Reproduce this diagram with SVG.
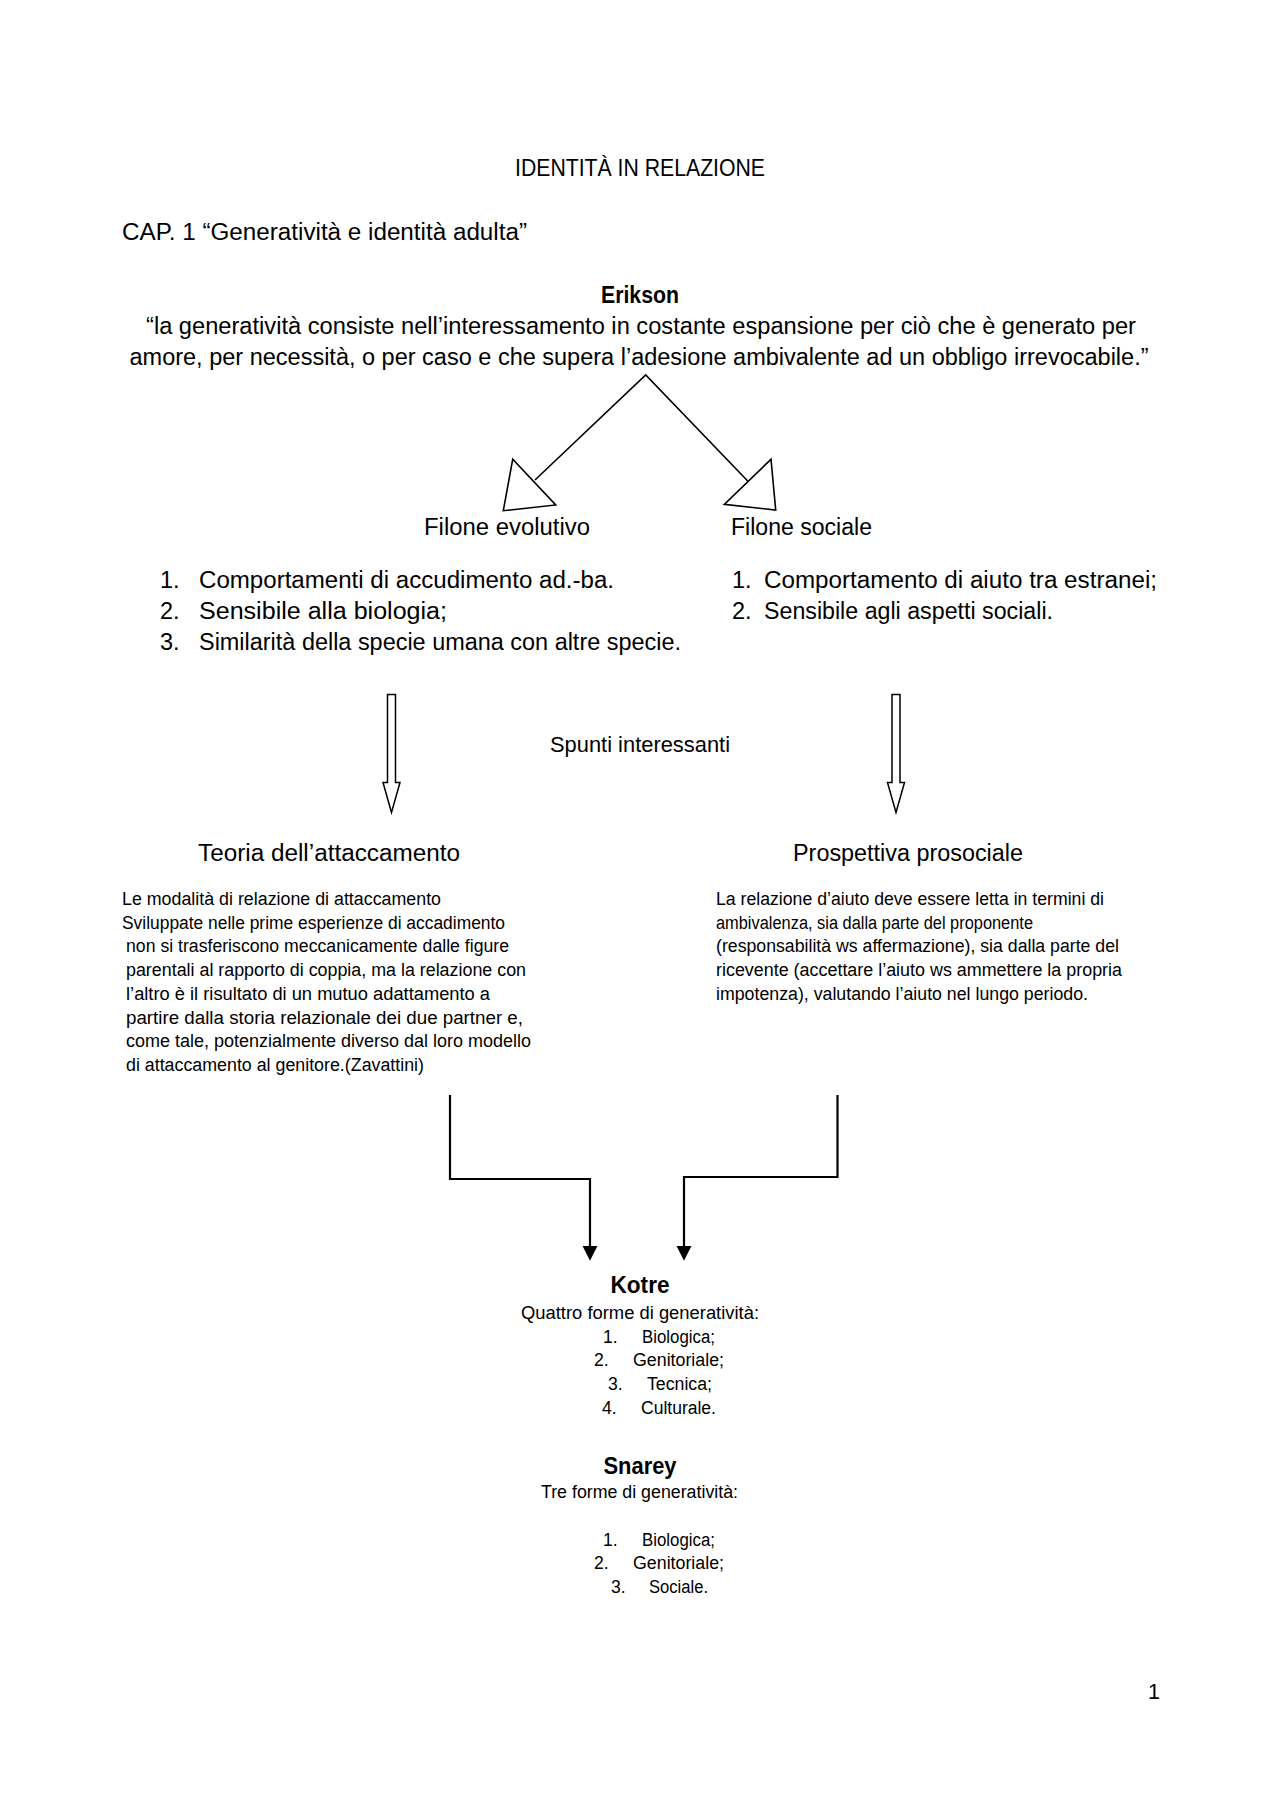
<svg xmlns="http://www.w3.org/2000/svg" width="1280" height="1811" viewBox="0 0 1280 1811">
<style>
text{font-family:"Liberation Sans",Arial,sans-serif;fill:#000}
.b12{font-size:23.5px}
.bold{font-size:23.5px;font-weight:bold}
.t11{font-size:21.5px}
.t9{font-size:17.6px}
.mid{text-anchor:middle}
.ln{fill:none;stroke:#000;stroke-width:1.6}
.el{fill:none;stroke:#000;stroke-width:2.2}
.blk{fill:#fff;stroke:#000;stroke-width:1.5;stroke-linejoin:miter}
</style>
<defs>
<marker id="ah" markerUnits="userSpaceOnUse" markerWidth="16" markerHeight="16" refX="0" refY="6.5" orient="auto" viewBox="0 0 14 13">
<path d="M0,0 L13,6.5 L0,13 Z" fill="#000"/>
</marker>
</defs>
<rect width="1280" height="1811" fill="#fff"/>

<g id="header">
<text class="b12 mid" x="640" y="176" textLength="250" lengthAdjust="spacingAndGlyphs">IDENTITÀ IN RELAZIONE</text>
<text class="b12" x="122" y="240" textLength="405" lengthAdjust="spacingAndGlyphs">CAP. 1 “Generatività e identità adulta”</text>
</g>

<g id="erikson">
<text class="bold mid" x="640" y="303" textLength="78" lengthAdjust="spacingAndGlyphs">Erikson</text>
<text class="b12 mid" x="641" y="334" textLength="990" lengthAdjust="spacingAndGlyphs">“la generatività consiste nell’interessamento in costante espansione per ciò che è generato per</text>
<text class="b12 mid" x="639" y="365" textLength="1019" lengthAdjust="spacingAndGlyphs">amore, per necessità, o per caso e che supera l’adesione ambivalente ad un obbligo irrevocabile.”</text>
</g>

<g id="filone-evolutivo">
<text class="b12" x="424" y="535" textLength="166" lengthAdjust="spacingAndGlyphs">Filone evolutivo</text>
<text class="b12" x="160" y="588">1.</text>
<text class="b12" x="199" y="588" textLength="415" lengthAdjust="spacingAndGlyphs">Comportamenti di accudimento ad.-ba.</text>
<text class="b12" x="160" y="619">2.</text>
<text class="b12" x="199" y="619" textLength="248" lengthAdjust="spacingAndGlyphs">Sensibile alla biologia;</text>
<text class="b12" x="160" y="650">3.</text>
<text class="b12" x="199" y="650" textLength="482" lengthAdjust="spacingAndGlyphs">Similarità della specie umana con altre specie.</text>
</g>

<g id="filone-sociale">
<text class="b12" x="731" y="535" textLength="141" lengthAdjust="spacingAndGlyphs">Filone sociale</text>
<text class="b12" x="732" y="588">1.</text>
<text class="b12" x="764" y="588" textLength="393" lengthAdjust="spacingAndGlyphs">Comportamento di aiuto tra estranei;</text>
<text class="b12" x="732" y="619">2.</text>
<text class="b12" x="764" y="619" textLength="289" lengthAdjust="spacingAndGlyphs">Sensibile agli aspetti sociali.</text>
</g>

<g id="spunti">
<text class="t11" x="550" y="752" textLength="180" lengthAdjust="spacingAndGlyphs">Spunti interessanti</text>
</g>

<g id="teoria-attaccamento">
<text class="b12" x="198" y="861" textLength="262" lengthAdjust="spacingAndGlyphs">Teoria dell’attaccamento</text>
<text class="t9" x="122" y="905" textLength="319" lengthAdjust="spacingAndGlyphs">Le modalità di relazione di attaccamento</text>
<text class="t9" x="122" y="928.7" textLength="383" lengthAdjust="spacingAndGlyphs">Sviluppate nelle prime esperienze di accadimento</text>
<text class="t9" x="126" y="952.4" textLength="383" lengthAdjust="spacingAndGlyphs">non si trasferiscono meccanicamente dalle figure</text>
<text class="t9" x="126" y="976.1" textLength="400" lengthAdjust="spacingAndGlyphs">parentali al rapporto di coppia, ma la relazione con</text>
<text class="t9" x="126" y="999.8" textLength="364" lengthAdjust="spacingAndGlyphs">l’altro è il risultato di un mutuo adattamento a</text>
<text class="t9" x="126" y="1023.5" textLength="397" lengthAdjust="spacingAndGlyphs">partire dalla storia relazionale dei due partner e,</text>
<text class="t9" x="126" y="1047.2" textLength="405" lengthAdjust="spacingAndGlyphs">come tale, potenzialmente diverso dal loro modello</text>
<text class="t9" x="126" y="1070.9" textLength="298" lengthAdjust="spacingAndGlyphs">di attaccamento al genitore.(Zavattini)</text>
</g>

<g id="prospettiva-prosociale">
<text class="b12" x="793" y="861" textLength="230" lengthAdjust="spacingAndGlyphs">Prospettiva prosociale</text>
<text class="t9" x="716" y="905" textLength="388" lengthAdjust="spacingAndGlyphs">La relazione d’aiuto deve essere letta in termini di</text>
<text class="t9" x="716" y="928.7" textLength="317" lengthAdjust="spacingAndGlyphs">ambivalenza, sia dalla parte del proponente</text>
<text class="t9" x="716" y="952.4" textLength="403" lengthAdjust="spacingAndGlyphs">(responsabilità ws affermazione), sia dalla parte del</text>
<text class="t9" x="716" y="976.1" textLength="406" lengthAdjust="spacingAndGlyphs">ricevente (accettare l’aiuto ws ammettere la propria</text>
<text class="t9" x="716" y="999.8" textLength="372" lengthAdjust="spacingAndGlyphs">impotenza), valutando l’aiuto nel lungo periodo.</text>
</g>

<g id="kotre">
<text class="bold mid" x="640" y="1293" textLength="59" lengthAdjust="spacingAndGlyphs">Kotre</text>
<text class="t9" x="521" y="1319" textLength="238" lengthAdjust="spacingAndGlyphs">Quattro forme di generatività:</text>
<text class="t9" x="603" y="1342.7">1.</text>
<text class="t9" x="642" y="1342.7" textLength="73" lengthAdjust="spacingAndGlyphs">Biologica;</text>
<text class="t9" x="594" y="1366.4">2.</text>
<text class="t9" x="633" y="1366.4" textLength="91" lengthAdjust="spacingAndGlyphs">Genitoriale;</text>
<text class="t9" x="608" y="1390.1">3.</text>
<text class="t9" x="647" y="1390.1" textLength="65" lengthAdjust="spacingAndGlyphs">Tecnica;</text>
<text class="t9" x="602" y="1413.8">4.</text>
<text class="t9" x="641" y="1413.8" textLength="75" lengthAdjust="spacingAndGlyphs">Culturale.</text>
</g>

<g id="snarey">
<text class="bold mid" x="640" y="1474" textLength="73" lengthAdjust="spacingAndGlyphs">Snarey</text>
<text class="t9" x="541" y="1498" textLength="197" lengthAdjust="spacingAndGlyphs">Tre forme di generatività:</text>
<text class="t9" x="603" y="1545.5">1.</text>
<text class="t9" x="642" y="1545.5" textLength="73" lengthAdjust="spacingAndGlyphs">Biologica;</text>
<text class="t9" x="594" y="1569.2">2.</text>
<text class="t9" x="633" y="1569.2" textLength="91" lengthAdjust="spacingAndGlyphs">Genitoriale;</text>
<text class="t9" x="611" y="1592.9">3.</text>
<text class="t9" x="649" y="1592.9" textLength="59" lengthAdjust="spacingAndGlyphs">Sociale.</text>
</g>

<g id="page-number">
<text class="t11" x="1148" y="1699">1</text>
</g>

<g id="connectors">
<path class="ln" d="M535,480 L645.7,375 L747.7,481"/>
<polygon class="ln" points="512.7,459.3 503.3,510.7 555.7,505"/>
<polygon class="ln" points="771,459.3 775.7,510 724.3,504.3"/>
<path class="blk" d="M387.5,694.5 H395.5 V782.5 H400 L391.5,812.5 L383,782.5 H387.5 Z"/>
<path class="blk" d="M892,694.5 H900 V782.5 H904.5 L896,812.5 L887.5,782.5 H892 Z"/>
<path class="el" d="M450,1095 V1179 H590 V1246" marker-end="url(#ah)"/>
<path class="el" d="M837.5,1095 V1177 H684 V1246" marker-end="url(#ah)"/>
</g>
</svg>
